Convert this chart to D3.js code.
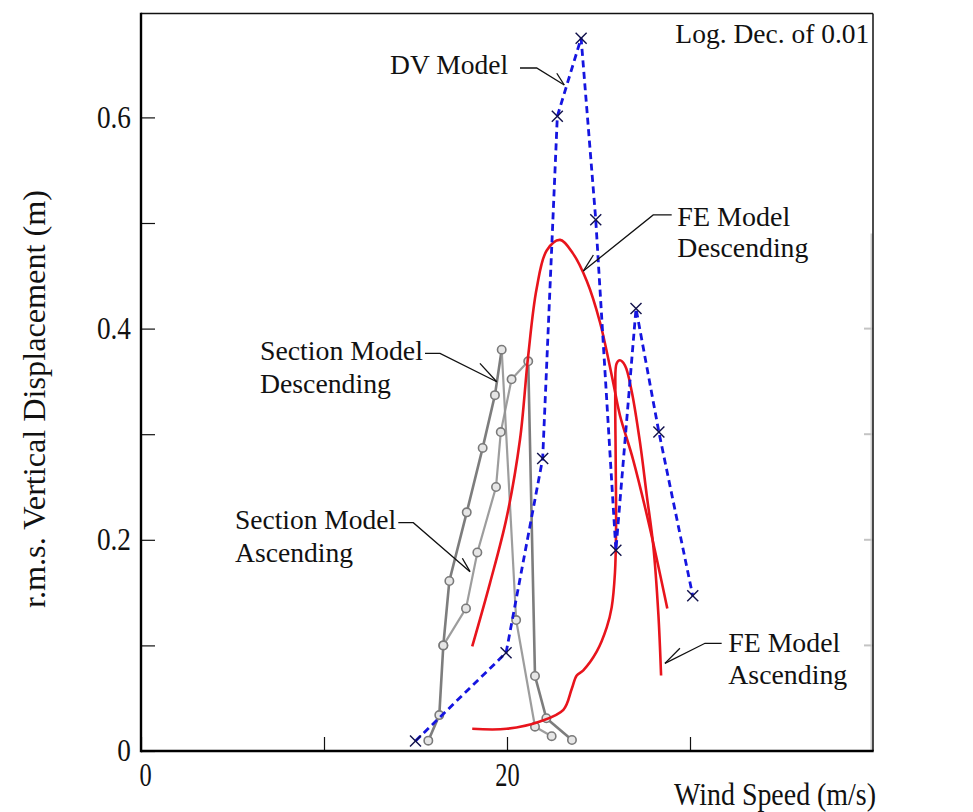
<!DOCTYPE html>
<html><head><meta charset="utf-8">
<script src="https://cdn.jsdelivr.net/npm/d3@7"></script>
<style>body{margin:0;background:#fff}svg{display:block}text{font-family:"Liberation Serif","Times New Roman",serif;fill:#111}</style>
</head><body><svg id="c" width="973" height="812"></svg>
<script>
// ---- data ----
const dvSpeed = [15.0, 19.95, 21.95, 22.75, 24.05, 24.85, 25.95, 27.05, 28.3, 30.15];
const dvDisp  = [0.0095, 0.093, 0.277, 0.601, 0.675, 0.503, 0.190, 0.419, 0.302, 0.147];

const feDescSpeed = [18.10, 19.07, 19.98, 20.71, 21.15, 21.62, 22.17, 22.90, 23.61, 24.36, 25.08, 25.79, 26.17, 26.89, 27.81, 28.76];
const feDescDisp  = [0.099, 0.159, 0.221, 0.295, 0.373, 0.438, 0.474, 0.484, 0.471, 0.445, 0.406, 0.350, 0.318, 0.276, 0.211, 0.135];

const feAscSpeed = [18.10, 19.98, 21.80, 23.08, 23.54, 23.81, 24.17, 24.90, 25.45, 25.72, 25.90, 25.96, 25.94, 25.92, 25.99, 26.17, 26.45, 26.81, 27.27, 27.63, 27.99, 28.27, 28.42];
const feAscDisp  = [0.021, 0.021, 0.028, 0.039, 0.059, 0.0715, 0.0764, 0.094, 0.117, 0.136, 0.169, 0.211, 0.276, 0.341, 0.367, 0.370, 0.365, 0.341, 0.292, 0.243, 0.195, 0.130, 0.0715];

const secDescSpeed = [15.70, 16.30, 16.52, 16.85, 17.80, 18.67, 19.34, 19.71, 20.50, 21.53, 22.44];
const secDescDisp  = [0.0098, 0.034, 0.100, 0.161, 0.226, 0.287, 0.337, 0.380, 0.124, 0.023, 0.014];

const secAscSpeed = [16.52, 17.76, 18.38, 19.40, 19.66, 20.25, 21.16, 21.53, 22.15, 23.55];
const secAscDisp  = [0.100, 0.135, 0.188, 0.250, 0.302, 0.352, 0.369, 0.071, 0.031, 0.0104];

const xTicks = [0, 10, 20, 30];
const xTickLabels = ["0", "", "20", ""];
const yTicks = [0, 0.1, 0.2, 0.3, 0.4, 0.5, 0.6];
const yTickLabels = ["0", "", "0.2", "", "0.4", "", "0.6"];

const xTitle = "Wind Speed (m/s)";
const yTitle = "r.m.s. Vertical Displacement (m)";
const noteText = "Log. Dec. of 0.01";
const labelDV = ["DV Model"];
const labelFEDesc = ["FE Model", "Descending"];
const labelFEAsc = ["FE Model", "Ascending"];
const labelSecDesc = ["Section Model", "Descending"];
const labelSecAsc = ["Section Model", "Ascending"];

// ---- layout ----
const L = 141, R = 873, T = 13.5, B = 751;
const svg = d3.select("#c");
svg.append("rect").attr("width", 973).attr("height", 812).attr("fill", "#fff");
const x = d3.scaleLinear().domain([0, 40]).range([L, R]);
const y = d3.scaleLinear().domain([0, 0.7]).range([B, 11.8]);

function condense(sel, f) {
  sel.each(function () {
    const l = this.getComputedTextLength();
    if (l > 0) { this.setAttribute("textLength", l * f); this.setAttribute("lengthAdjust", "spacingAndGlyphs"); }
  });
}

// faint artifact ticks/line at right side
const gR = svg.append("g");
gR.append("line").attr("x1", R - 1.5).attr("x2", R - 1.5).attr("y1", y(0.49)).attr("y2", B)
  .attr("stroke", "#cfcfcf").attr("stroke-width", 2);
gR.selectAll("line.rt").data([0.1, 0.2, 0.3, 0.4]).join("line").attr("class", "rt")
  .attr("x1", R - 9).attr("x2", R).attr("y1", d => y(d)).attr("y2", d => y(d))
  .attr("stroke", "#c4c4c4").attr("stroke-width", 2);

// axes
const yAxis = d3.axisLeft(y).tickValues(yTicks).tickSize(-14).tickPadding(10)
  .tickFormat((d, i) => yTickLabels[i]);
const gy = svg.append("g").attr("transform", `translate(${L},0)`).call(yAxis);
gy.select(".domain").remove();
gy.selectAll(".tick line").attr("stroke", "#111").attr("stroke-width", 1.2);
gy.selectAll(".tick text").attr("font-size", 31).attr("font-family", "Liberation Serif").attr("fill", "#111");
condense(gy.selectAll(".tick text"), 0.88);

const xAxis = d3.axisBottom(x).tickValues(xTicks).tickSize(-14).tickPadding(12)
  .tickFormat((d, i) => xTickLabels[i]);
const gx = svg.append("g").attr("transform", `translate(0,${B})`).call(xAxis);
gx.select(".domain").remove();
gx.selectAll(".tick line").attr("stroke", "#111").attr("stroke-width", 1.2);
gx.selectAll(".tick text").attr("font-size", 33).attr("font-family", "Liberation Serif").attr("fill", "#111")
  .attr("dx", d => d === 0 ? 4 : 0);
condense(gx.selectAll(".tick text"), 0.74);

// frame
svg.append("line").attr("x1", L).attr("x2", R).attr("y1", T).attr("y2", T).attr("stroke", "#111").attr("stroke-width", 1.5);
svg.append("line").attr("x1", R).attr("x2", R).attr("y1", T).attr("y2", B).attr("stroke", "#111").attr("stroke-width", 1.5);
svg.append("line").attr("x1", L).attr("x2", L).attr("y1", T - 0.7).attr("y2", B + 1.2).attr("stroke", "#000").attr("stroke-width", 2.4);
svg.append("line").attr("x1", L).attr("x2", R + 0.7).attr("y1", B).attr("y2", B).attr("stroke", "#000").attr("stroke-width", 2.4);

// titles
svg.append("text").attr("x", R + 3).attr("y", 805).attr("text-anchor", "end").attr("font-size", 31)
  .attr("textLength", 202).attr("lengthAdjust", "spacingAndGlyphs").text(xTitle);
svg.append("text").attr("transform", `translate(45,${(190 + 608) / 2}) rotate(-90)`).attr("text-anchor", "middle")
  .attr("font-size", 32).attr("textLength", 418).attr("lengthAdjust", "spacingAndGlyphs").text(yTitle);

// helpers
const zip = (a, b) => a.map((v, i) => [v, b[i]]);
const lineLin = d3.line().x(d => x(d[0])).y(d => y(d[1]));
const lineSmooth = d3.line().x(d => x(d[0])).y(d => y(d[1])).curve(d3.curveCatmullRom.alpha(0.5));
const peakIndex = arr => arr.indexOf(d3.max(arr));

// Section model (gray): rising and falling branches drawn with slightly different greys
const secDesc = zip(secDescSpeed, secDescDisp);
const secAsc = zip(secAscSpeed, secAscDisp);
const pd = peakIndex(secDescDisp), pa = peakIndex(secAscDisp);
const dark = { c: "#6f6f6f", w: 2.6 }, light = { c: "#929292", w: 2.2 };
[[secDesc.slice(0, pd + 1), dark], [secDesc.slice(pd), light],
 [secAsc.slice(0, pa + 1), light], [secAsc.slice(pa), dark]].forEach(([seg, s]) => {
  svg.append("path").attr("d", lineLin(seg)).attr("fill", "none").attr("stroke", s.c).attr("stroke-width", s.w).attr("opacity", 0.9);
});
svg.append("g").selectAll("circle").data(secAsc.concat(secDesc)).join("circle")
  .attr("cx", d => x(d[0])).attr("cy", d => y(d[1])).attr("r", 4.2)
  .attr("fill", "#e6e6e6").attr("stroke", "#7a7a7a").attr("stroke-width", 1.6);

// FE model (red)
svg.append("path").attr("d", lineSmooth(zip(feDescSpeed, feDescDisp))).attr("fill", "none").attr("stroke", "#e8141c").attr("stroke-width", 2.6);
svg.append("path").attr("d", lineSmooth(zip(feAscSpeed, feAscDisp))).attr("fill", "none").attr("stroke", "#e8141c").attr("stroke-width", 2.6);

// DV model (blue dashed + X)
const dv = zip(dvSpeed, dvDisp);
svg.append("path").attr("d", lineLin(dv)).attr("fill", "none").attr("stroke", "#1515e0").attr("stroke-width", 2.8).attr("stroke-dasharray", "7,4.5");
const xm = svg.append("g").selectAll("g").data(dv).join("g").attr("transform", d => `translate(${x(d[0])},${y(d[1])})`);
xm.append("line").attr("x1", -5.5).attr("y1", -5.5).attr("x2", 5.5).attr("y2", 5.5).attr("stroke", "#10104a").attr("stroke-width", 1.4);
xm.append("line").attr("x1", -5.5).attr("y1", 5.5).attr("x2", 5.5).attr("y2", -5.5).attr("stroke", "#10104a").attr("stroke-width", 1.4);

// annotations (positions in data units)
const notes = [
  { lines: labelDV, x: 13.61, y: [0.6408], len: [118], leader: [[20.71, 0.6468], [21.62, 0.6468], [23.13, 0.6307]], barb: [22.72, 0.6418] },
  { lines: labelFEDesc, x: 29.31, y: [0.4974, 0.4681], len: [113, 131], leader: [[29.0, 0.5076], [27.99, 0.5076], [24.17, 0.4545]], barb: [24.72, 0.4697] },
  { lines: labelSecDesc, x: 6.50, y: [0.3703, 0.3387], len: [163, 131], leader: [[15.52, 0.3766], [16.34, 0.3766], [19.44, 0.3497]], barb: [18.52, 0.3671] },
  { lines: labelSecAsc, x: 5.14, y: [0.2102, 0.1787], len: [161, 118], leader: [[14.06, 0.2162], [14.88, 0.2162], [17.98, 0.1698]], barb: [17.56, 0.1825] },
  { lines: labelFEAsc, x: 32.09, y: [0.0940, 0.0634], len: [112, 119], leader: [[31.73, 0.1020], [30.82, 0.1020], [28.63, 0.0830]], barb: [29.45, 0.0973] }
];
const ga = svg.append("g");
notes.forEach(n => {
  n.lines.forEach((t, i) => {
    ga.append("text").attr("x", x(n.x)).attr("y", y(n.y[i])).attr("font-size", 28)
      .attr("textLength", n.len[i]).attr("lengthAdjust", "spacingAndGlyphs").text(t);
  });
  ga.append("path").attr("d", lineLin(n.leader)).attr("fill", "none").attr("stroke", "#111").attr("stroke-width", 1.3);
  const tip = n.leader[n.leader.length - 1];
  ga.append("path").attr("d", lineLin([n.barb, tip])).attr("fill", "none").attr("stroke", "#111").attr("stroke-width", 1.3);
});
svg.append("text").attr("x", x(39.80)).attr("y", y(0.6701)).attr("text-anchor", "end").attr("font-size", 27)
  .attr("textLength", 194).attr("lengthAdjust", "spacingAndGlyphs").text(noteText);
</script></body></html>
